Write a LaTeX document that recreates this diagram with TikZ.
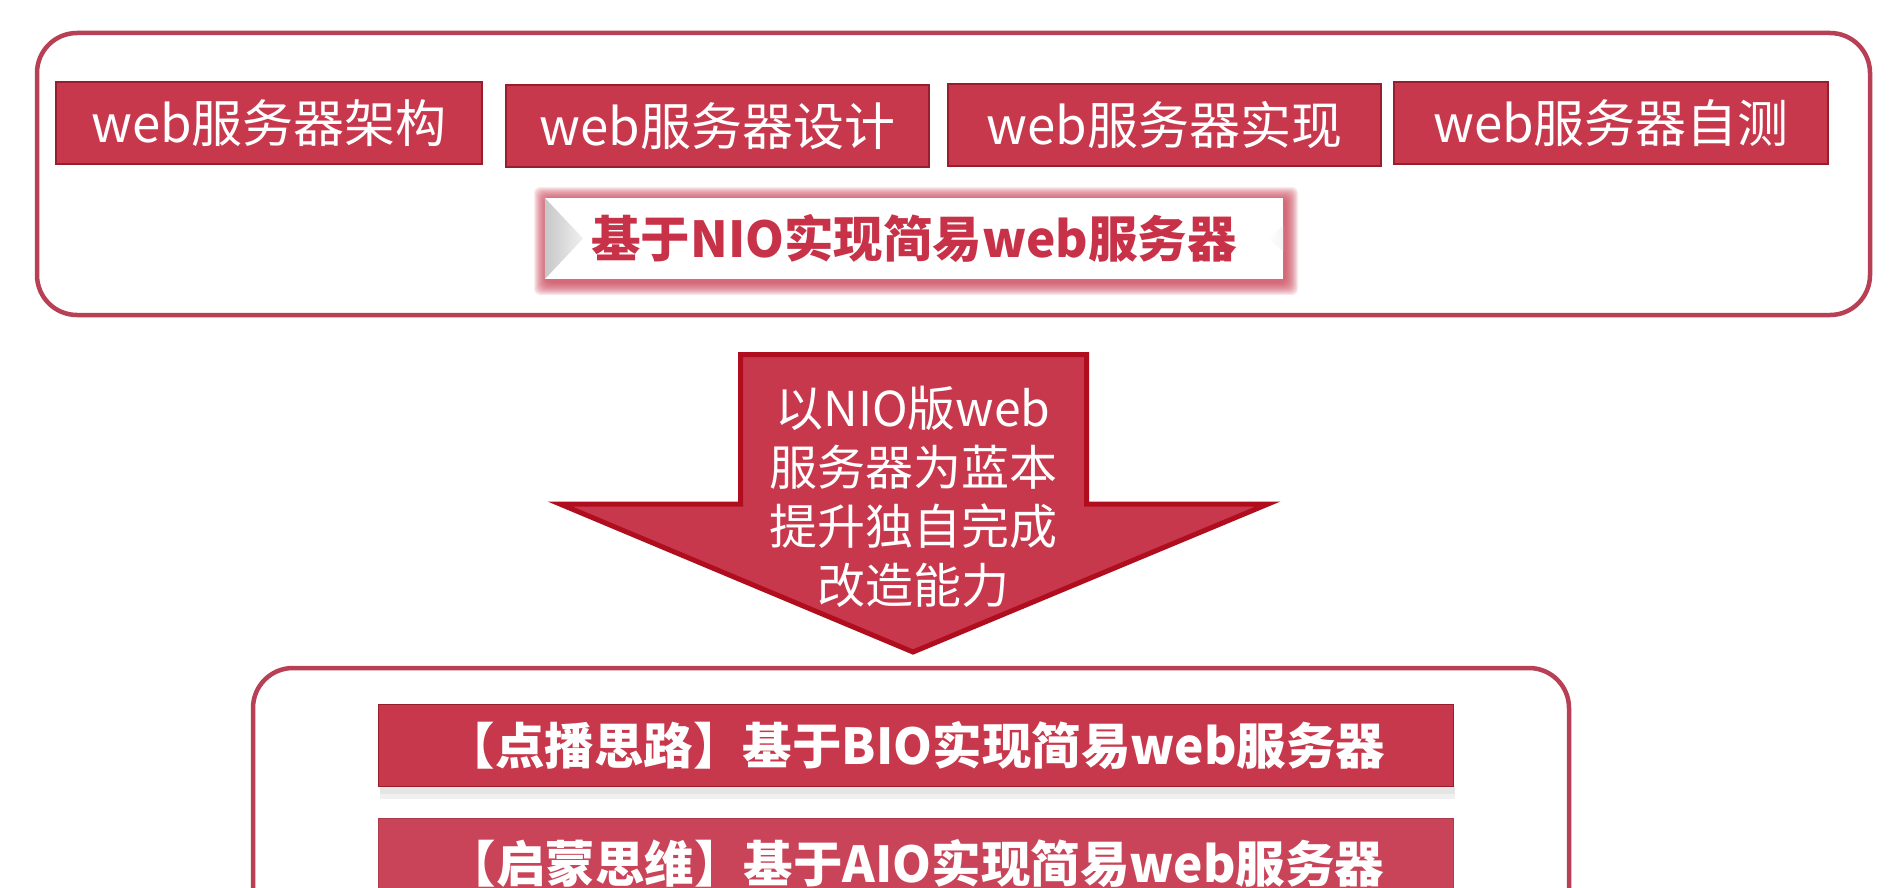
\documentclass[tikz,border=0pt]{standalone}
\usepackage{fontspec}
\setmainfont{Noto Sans CJK SC}
\usetikzlibrary{calc}
\definecolor{crim}{RGB}{200,56,76}
\definecolor{crimB}{RGB}{201,68,88}
\definecolor{crimdark}{RGB}{150,30,45}
\definecolor{framec}{RGB}{184,64,84}
\definecolor{arrowedge}{RGB}{176,14,30}
\definecolor{glowc}{RGB}{205,70,90}
\definecolor{niotext}{RGB}{200,50,72}
\begin{document}
\begin{tikzpicture}[x=1pt,y=-1pt,
  frame/.style={draw=framec, line width=4.5pt, rounded corners=40pt},
  redbox/.style={draw=crimdark, line width=1.2pt, fill=crim, text=white, inner sep=0pt,
    font=\fontsize{51}{60}\selectfont},
  niobox/.style={fill=white, inner sep=0pt, text=niotext, font=\fontsize{49.5}{56}\selectfont\bfseries},
  botbox/.style={draw=crimdark, line width=1pt, fill=crim, text=white, inner sep=0pt,
    font=\fontsize{49.5}{58}\selectfont\bfseries},
  arrowtext/.style={text=white, align=center, inner sep=0pt, font=\fontsize{48}{59}\selectfont}
]
\useasboundingbox (0,0) rectangle (1890,888);
\fill[white] (0,0) rectangle (1890,888);
\clip (0,0) rectangle (1890,888);

% top frame
\draw[frame] (37,33) rectangle (1870,315);

% top row boxes
\node[redbox, minimum width=426pt, minimum height=82pt] (b1) at (269,123) {web服务器架构};
\node[redbox, minimum width=423pt, minimum height=82pt] (b2) at (717.5,126) {web服务器设计};
\node[redbox, minimum width=433pt, minimum height=82pt] (b3) at (1164.5,125) {web服务器实现};
\node[redbox, minimum width=434pt, minimum height=82pt] (b4) at (1611,123) {web服务器自测};

% NIO box with glow
\coordinate (nw) at (545,198);
\coordinate (se) at (1283,279);
\foreach \i in {13,12,...,1}{
  \fill[glowc, opacity=0.11, rounded corners=6pt] ($(nw)+({-\i+2},{-\i+2})$) rectangle ($(se)+({\i+2},{\i+3})$);
}
\node[niobox, minimum width=738pt, minimum height=81pt] (nio) at (914,238.5) {};
\shade[left color=black!22, right color=black!6] (nio.north west) -- (583,238.5) -- (nio.south west) -- cycle;
\shade[left color=white, right color=black!4] (1283,226) -- (1268,238.5) -- (1283,251) -- cycle;
\node[niobox] (niotxt) at (914,238.5) {基于NIO实现简易web服务器};

% big arrow
\draw[arrowedge, line width=5pt, fill=crim, line join=miter]
  (740.5,354.5) -- (1086.5,354.5) -- (1086.5,504) -- (1268,504) -- (913,652) -- (560,504) -- (740.5,504) -- cycle;
\node[arrowtext] (at) at (913,497) {以NIO版web\\服务器为蓝本\\提升独自完成\\改造能力};

% bottom frame
\draw[frame] (253,668) rectangle (1569,960);

% bottom boxes
\fill[black, opacity=0.10] (380,786) rectangle (1455,794);
\fill[black, opacity=0.06] (380,794) rectangle (1455,799);
\node[botbox, minimum width=1075pt, minimum height=82pt] (ba) at (915.5,745) {【点播思路】基于BIO实现简易web服务器};
\node[botbox, fill=crimB, draw=crimB!85!black, minimum width=1075pt, minimum height=90pt] (bb) at (915.5,863) {【启蒙思维】基于AIO实现简易web服务器};
\end{tikzpicture}
\end{document}
